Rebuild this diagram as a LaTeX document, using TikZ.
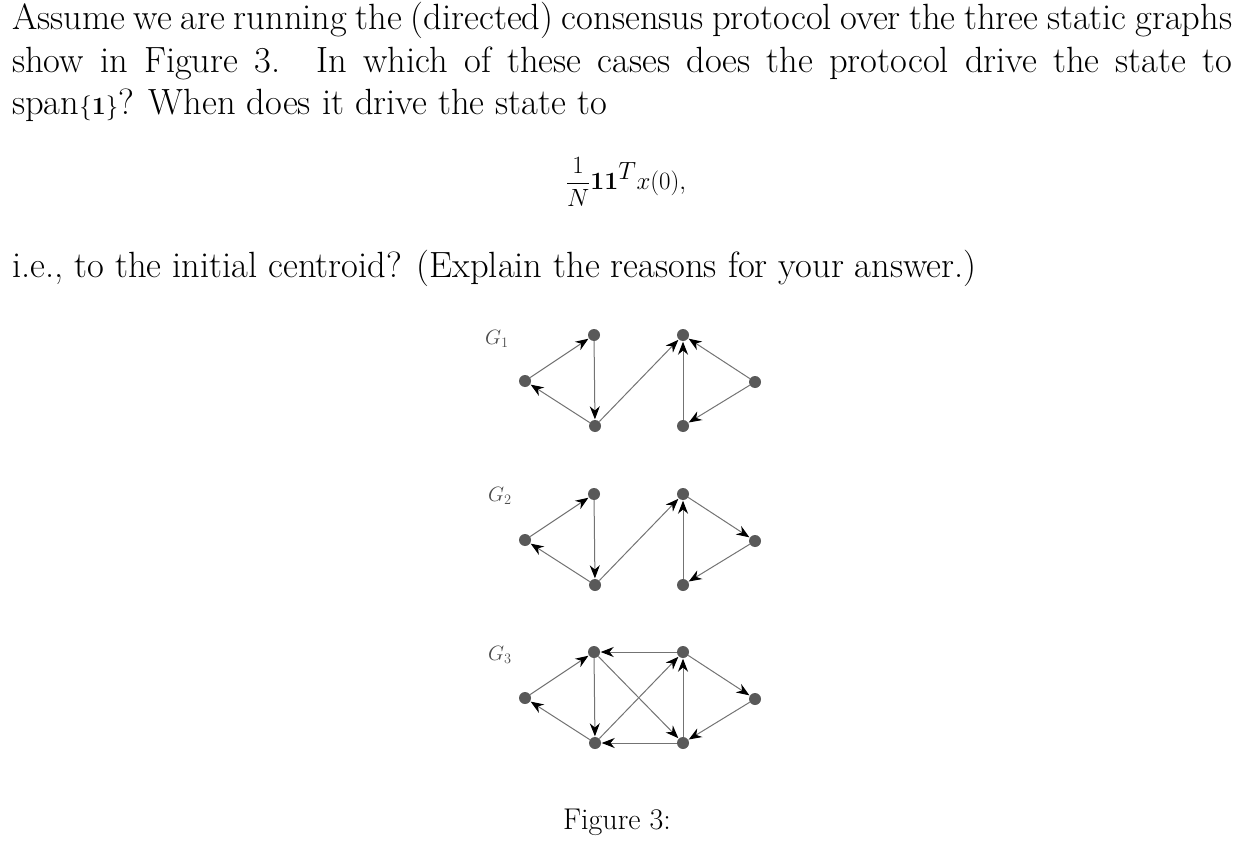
\documentclass[tikz,border=0pt]{standalone}
\usepackage{amsmath,amssymb}
\usetikzlibrary{arrows.meta}
\tikzset{
 v/.style={circle,fill=black!65,inner sep=0pt,minimum size=12pt},
 e/.style={draw=black!55,line width=1pt,-{Stealth[length=13pt,width=10pt,color=black]},shorten >=0.5pt},
 txt/.style={anchor=west,inner sep=0pt,font=\fontsize{36.5}{44}\selectfont},
 glab/.style={font=\fontsize{22}{24}\selectfont,text=black!70}
}
\newcommand{\graphsix}[2]{%
 \node[v] (#1L) at (525,#2+46) {};
 \node[v] (#1A) at (594,#2) {};
 \node[v] (#1B) at (595,#2+91) {};
 \node[v] (#1C) at (683,#2) {};
 \node[v] (#1D) at (683,#2+91) {};
 \node[v] (#1R) at (755,#2+47) {};
}
\begin{document}
\begin{tikzpicture}[x=1pt,y=-1pt]
\useasboundingbox (0,0) rectangle (1243,856);
\node[txt] (l1) at (12,20) {\makebox[1220pt][s]{Assume we are running the (directed) consensus protocol over the three static graphs}};
\node[txt] (l2) at (12,63) {\makebox[1220pt][s]{show in Figure 3.\quad In which of these cases does the protocol drive the state to}};
\node[txt] (l3) at (12,105) {span$\{\mathbf{1}\}$? When does it drive the state to};
\node[inner sep=0pt,font=\fontsize{36.5}{44}\selectfont] (eq) at (626,182) {$\displaystyle \frac{1}{N}\mathbf{1}\mathbf{1}^T x(0),$};
\node[txt] (l4) at (12,268) {i.e., to the initial centroid? (Explain the reasons for your answer.)};
\node[inner sep=0pt,font=\fontsize{30}{34}\selectfont] (cap) at (617,822) {Figure 3:};
% G1
\graphsix{a}{335}
\node[glab] (g1) at (497,339) {$G_1$};
\draw[e] (aL) -- (aA); \draw[e] (aA) -- (aB); \draw[e] (aB) -- (aL);
\draw[e] (aB) -- (aC); \draw[e] (aD) -- (aC); \draw[e] (aR) -- (aC); \draw[e] (aR) -- (aD);
% G2
\graphsix{b}{494}
\node[glab] (g2) at (500,496) {$G_2$};
\draw[e] (bL) -- (bA); \draw[e] (bA) -- (bB); \draw[e] (bB) -- (bL);
\draw[e] (bB) -- (bC); \draw[e] (bD) -- (bC); \draw[e] (bC) -- (bR); \draw[e] (bR) -- (bD);
% G3
\graphsix{c}{652}
\node[glab] (g3) at (500,655) {$G_3$};
\draw[e] (cL) -- (cA); \draw[e] (cA) -- (cB); \draw[e] (cB) -- (cL);
\draw[e] (cB) -- (cC); \draw[e] (cD) -- (cC); \draw[e] (cC) -- (cR); \draw[e] (cR) -- (cD);
\draw[e] (cC) -- (cA); \draw[e] (cD) -- (cB); \draw[e] (cA) -- (cD);
\end{tikzpicture}
\end{document}
